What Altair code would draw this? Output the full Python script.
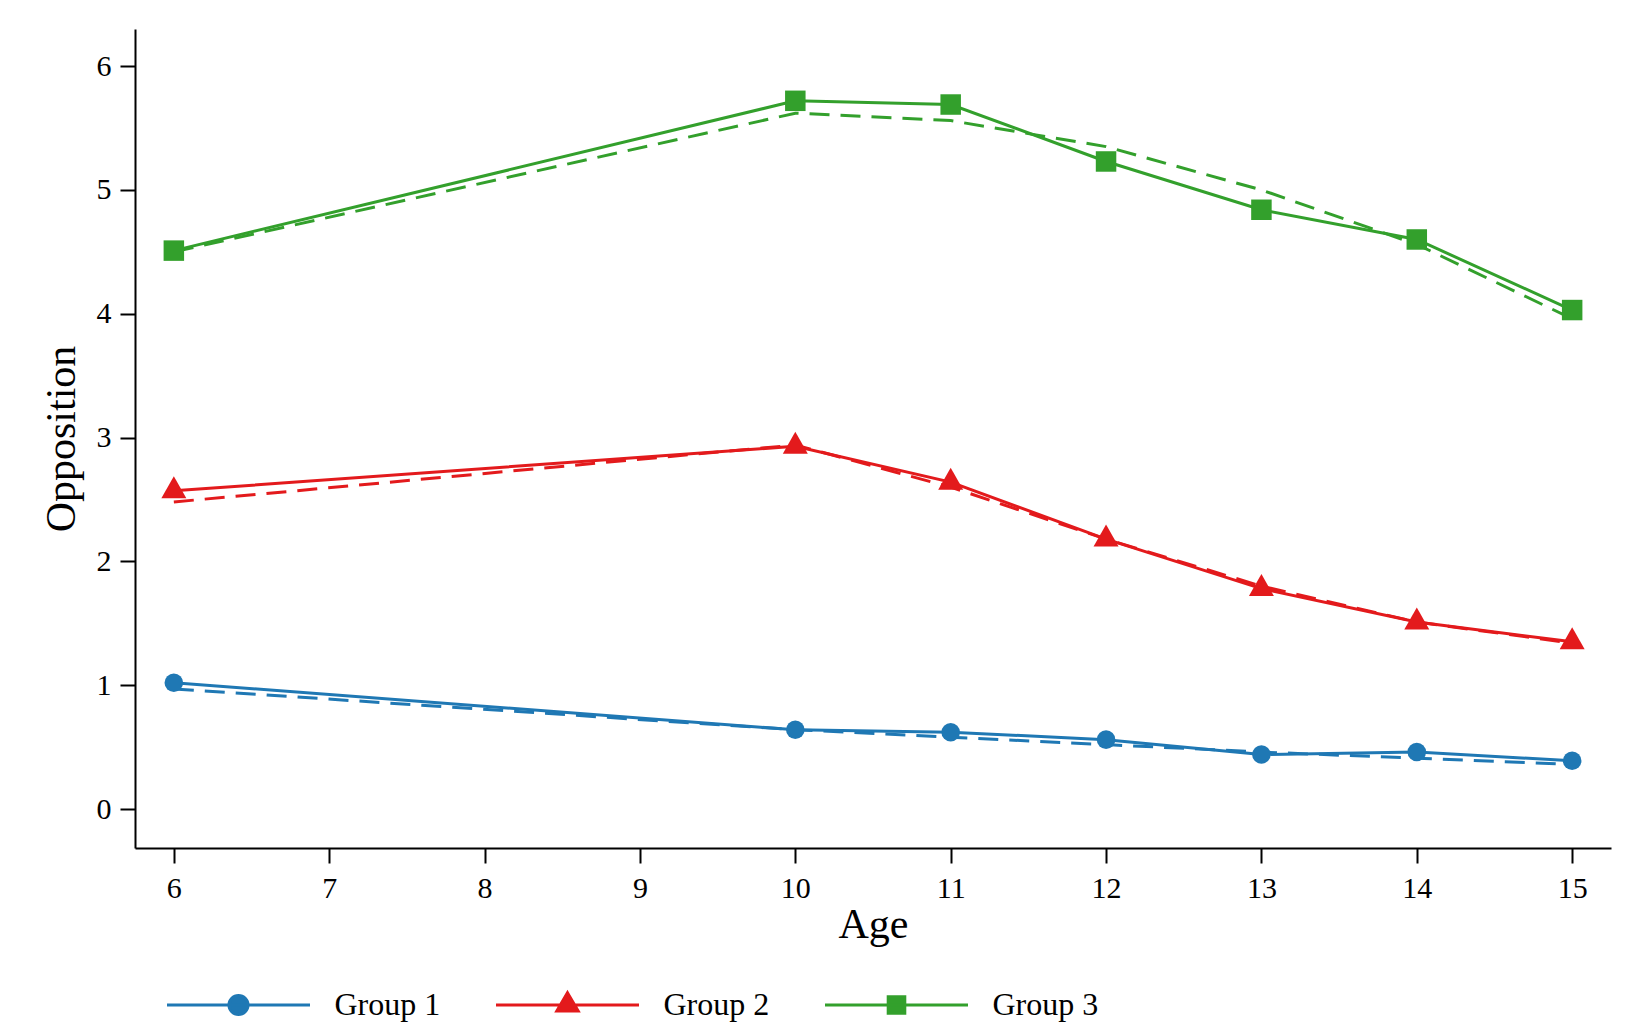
import altair as alt
import pandas as pd

# Ages at which opposition was measured
ages = [6, 10, 11, 12, 13, 14, 15]
groups = ["Group 1", "Group 2", "Group 3"]

# Observed means (solid lines with markers)
observed = {
    "Group 1": [1.02, 0.64, 0.62, 0.56, 0.44, 0.46, 0.39],
    "Group 2": [2.57, 2.93, 2.64, 2.18, 1.78, 1.51, 1.35],
    "Group 3": [4.51, 5.72, 5.69, 5.23, 4.84, 4.60, 4.03],
}
# Model-estimated trajectories (dashed lines)
fitted = {
    "Group 1": [0.97, 0.64, 0.58, 0.52, 0.46, 0.41, 0.36],
    "Group 2": [2.48, 2.94, 2.60, 2.18, 1.80, 1.51, 1.34],
    "Group 3": [4.50, 5.62, 5.56, 5.35, 5.00, 4.56, 3.96],
}

x_ticks = list(range(6, 16))
y_ticks = list(range(0, 7))

colors = ["#1f78b4", "#e31a1c", "#33a02c"]
FONT = "Liberation Serif"

rows = []
for g in groups:
    for a, o, f in zip(ages, observed[g], fitted[g]):
        rows.append({"Age": a, "Group": g, "Observed": o, "Fitted": f})
df = pd.DataFrame(rows)

x_enc = alt.X(
    "Age:Q",
    scale=alt.Scale(domain=[5.75, 15.25], nice=False, zero=False),
    axis=alt.Axis(values=x_ticks, format="d", title="Age", labelPadding=10, titlePadding=1),
)
y_axis = alt.Axis(values=y_ticks, format="d", title="Opposition", labelPadding=9, titlePadding=13)
y_scale = alt.Scale(domain=[-0.315, 6.3], nice=False, zero=False)
y_obs = alt.Y("Observed:Q", scale=y_scale, axis=y_axis)
y_fit = alt.Y("Fitted:Q", scale=y_scale, axis=y_axis)

base = alt.Chart(df)

# Marker shape and size per group (triangle centred on its centroid)
marker_shapes = {
    "Group 1": ("circle", 346),
    "Group 2": ("M0,-1.45L1.25,0.75L-1.25,0.75Z", 400),
    "Group 3": ("square", 420),
}

layers = []
for g, c in zip(groups, colors):
    sub = base.transform_filter(alt.datum.Group == g)
    shp, sz = marker_shapes[g]
    layers.append(
        sub.mark_line(color=c, strokeWidth=3, strokeDash=[20, 11]).encode(x=x_enc, y=y_fit)
    )
    layers.append(sub.mark_line(color=c, strokeWidth=3).encode(x=x_enc, y=y_obs))
    layers.append(
        sub.mark_point(filled=True, opacity=1, color=c, shape=shp, size=sz).encode(
            x=x_enc, y=y_obs
        )
    )

# Legend keys: a line with the group's marker in the middle
legend_paths = [
    "M-7.15,0H7.15M0.945,0A0.945,0.945,0,1,1,-0.945,0A0.945,0.945,0,1,1,0.945,0Z",
    "M-7.15,0H7.15M0,-1.2L1.05,0.6L-1.05,0.6Z",
    "M-7.15,0H7.15M-0.82,-0.82H0.82V0.82H-0.82Z",
]
legend_def = alt.Legend(
    title=None,
    orient="none",
    legendX=30.5,
    legendY=960,
    direction="horizontal",
    symbolSize=400,
    symbolStrokeWidth=3.2,
    symbolOpacity=1,
    symbolOffset=57,
    labelOffset=80,
    columnPadding=49,
    labelFont=FONT,
    labelFontSize=32,
    labelColor="black",
    padding=0,
)
legend_layer = (
    base.transform_filter("false")
    .mark_point(filled=True)
    .encode(
        x=x_enc,
        y=y_obs,
        fill=alt.Fill("Group:N", scale=alt.Scale(domain=groups, range=colors), legend=legend_def),
        stroke=alt.Stroke("Group:N", scale=alt.Scale(domain=groups, range=colors), legend=legend_def),
        shape=alt.Shape("Group:N", scale=alt.Scale(domain=groups, range=legend_paths), legend=legend_def),
    )
)

chart = (
    alt.layer(*layers, legend_layer)
    .properties(
        width=1476,
        height=819,
        autosize=alt.AutoSizeParams(type="none"),
        padding={"left": 135, "top": 29, "right": 31, "bottom": 187},
        background="white",
    )
    .configure_view(strokeWidth=0)
    .configure_axis(
        grid=False,
        domainColor="black",
        domainWidth=2,
        tickColor="black",
        tickWidth=2,
        tickSize=15,
        labelFont=FONT,
        labelFontSize=30,
        labelColor="black",
        titleFont=FONT,
        titleFontSize=42,
        titleFontWeight="normal",
        titleColor="black",
    )
)

chart.save("out.html", embed_options={"renderer": "svg", "actions": False})
